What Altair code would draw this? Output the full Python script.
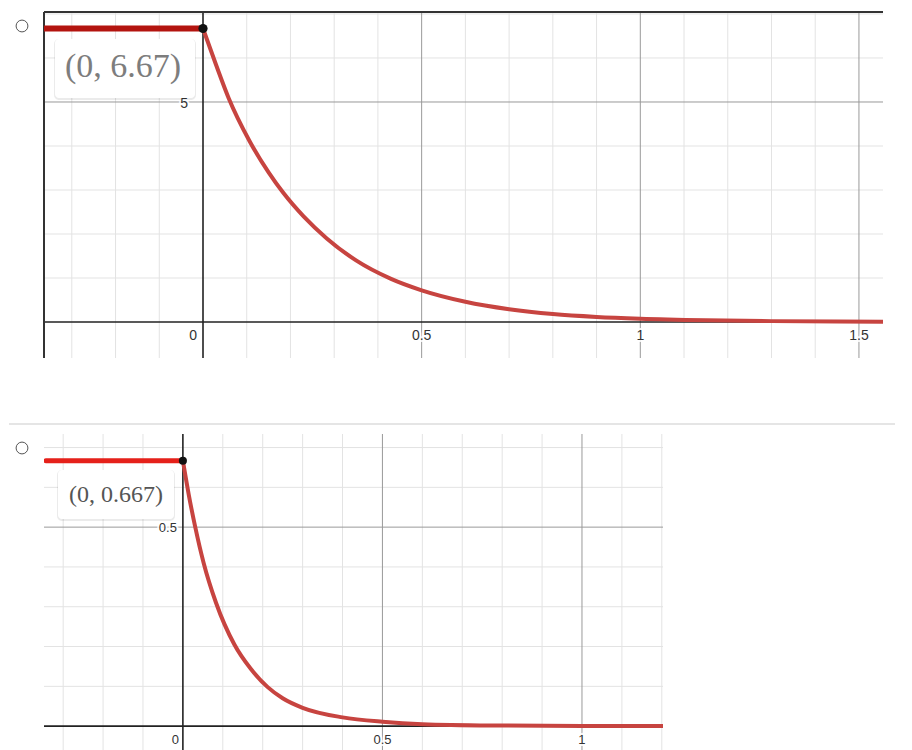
import altair as alt
import pandas as pd

# ---------------- data ----------------
# top graph: decaying curve starting at (0, 6.67)
top_curve_x = [0, 0.03, 0.059, 0.106, 0.15, 0.184, 0.23, 0.283, 0.35, 0.43, 0.5,
               0.6, 0.7, 0.8, 0.9, 1.0, 1.15, 1.3, 1.45, 1.56]
top_curve_y = [6.67, 5.84, 5.08, 4.12, 3.40, 2.93, 2.40, 1.90, 1.40, 0.98, 0.72,
               0.46, 0.29, 0.18, 0.115, 0.075, 0.04, 0.02, 0.011, 0.008]
top_flat_x = [-0.4, 0]
top_flat_y = [6.67, 6.67]
top_point = (0, 6.67)
top_point_label = "(0, 6.67)"

# bottom graph: decaying curve starting at (0, 0.667)
bot_curve_x = [0, 0.015, 0.031, 0.052, 0.083, 0.129, 0.17, 0.2125, 0.25, 0.3,
               0.4, 0.5, 0.6, 0.8, 1.0, 1.21]
bot_curve_y = [0.667, 0.58, 0.50, 0.41, 0.31, 0.205, 0.144, 0.098, 0.070, 0.046,
               0.022, 0.011, 0.005, 0.0015, 0.0004, 0.0001]
bot_flat_x = [-0.343, 0]
bot_flat_y = [0.667, 0.667]
bot_point = (0, 0.667)
bot_point_label = "(0, 0.667)"

# grid / ticks
top_x_minor = [-0.3, -0.2, -0.1, 0.1, 0.2, 0.3, 0.4, 0.6, 0.7, 0.8, 0.9, 1.1, 1.2, 1.3, 1.4]
top_x_major = [0.5, 1.0, 1.5]
top_y_minor = [1, 2, 3, 4, 6, 7]
top_y_major = [5]
top_x_ticks = [0.5, 1.0, 1.5]
top_x_tick_labels = ["0.5", "1", "1.5"]
top_y_ticks = [5]
top_y_tick_labels = ["5"]

bot_x_minor = [-0.3, -0.2, -0.1, 0.1, 0.2, 0.3, 0.4, 0.6, 0.7, 0.8, 0.9, 1.1, 1.2]
bot_x_major = [0.5, 1.0]
bot_y_minor = [0.1, 0.2, 0.3, 0.4, 0.6, 0.7]
bot_y_major = [0.5]
bot_x_ticks = [0.5, 1.0]
bot_x_tick_labels = ["0.5", "1"]
bot_y_ticks = [0.5]
bot_y_tick_labels = ["0.5"]

# ---------------- styles ----------------
MINOR = "#e3e3e3"
MAJOR = "#999999"
AXIS = "#222222"
CURVE = "#c74440"
LABEL_FONT = "Liberation Sans"
ONE = pd.DataFrame({"a": [0]})


def build_panel(W, H, xdom, ydom, curve_x, curve_y, flat_x, flat_y, flat_color,
                flat_width, point, point_label, label_font_size, label_color,
                label_dx, label_dy, box, x_minor, x_major, y_minor, y_major,
                x_ticks, x_tick_labels, y_ticks, y_tick_labels, zero_dx, y_dx,
                y_dy, tick_size, dot_size, frame, sep):
    xs = alt.Scale(domain=xdom, nice=False, zero=False)
    ys = alt.Scale(domain=ydom, nice=False, zero=False)

    def X(f):
        return alt.X(f, type="quantitative", scale=xs, axis=None)

    def Y(f):
        return alt.Y(f, type="quantitative", scale=ys, axis=None)

    layers = []
    # grid lines
    layers.append(alt.Chart(pd.DataFrame({"v": x_minor})).mark_rule(color=MINOR, strokeWidth=1).encode(x=X("v")))
    layers.append(alt.Chart(pd.DataFrame({"v": y_minor})).mark_rule(color=MINOR, strokeWidth=1).encode(y=Y("v")))
    layers.append(alt.Chart(pd.DataFrame({"v": x_major})).mark_rule(color=MAJOR, strokeWidth=1).encode(x=X("v")))
    layers.append(alt.Chart(pd.DataFrame({"v": y_major})).mark_rule(color=MAJOR, strokeWidth=1).encode(y=Y("v")))
    # axes
    layers.append(alt.Chart(pd.DataFrame({"v": [0]})).mark_rule(color=AXIS, strokeWidth=1.6).encode(x=X("v")))
    layers.append(alt.Chart(pd.DataFrame({"v": [0]})).mark_rule(color=AXIS, strokeWidth=1.6).encode(y=Y("v")))
    if frame:
        layers.append(alt.Chart(ONE).mark_rule(color="#333333", strokeWidth=2).encode(y=alt.value(0)))
        layers.append(alt.Chart(ONE).mark_rule(color="#333333", strokeWidth=2).encode(x=alt.value(0)))
    # separator line above the panel and the little radio circle
    if sep:
        layers.append(alt.Chart(ONE).mark_rule(color="#dddddd", strokeWidth=1.5).encode(
            x=alt.value(-35), x2=alt.value(851), y=alt.value(-10)))
    layers.append(alt.Chart(ONE).mark_point(shape="circle", filled=False, size=140,
                                            color="#555555", strokeWidth=1, opacity=1).encode(
        x=alt.value(-22), y=alt.value(14)))

    # tick labels with white halo
    def labels(df, align, dx, dy):
        enc = dict(x=X("x"), y=Y("y"), text=alt.Text("t:N"))
        halo = alt.Chart(df).mark_text(align=align, baseline="middle", dx=dx, dy=dy,
                                       font=LABEL_FONT, fontSize=tick_size, color="white",
                                       stroke="white", strokeWidth=4, opacity=0.85).encode(**enc)
        txt = alt.Chart(df).mark_text(align=align, baseline="middle", dx=dx, dy=dy,
                                      font=LABEL_FONT, fontSize=tick_size,
                                      color="#333333").encode(**enc)
        return [halo, txt]

    layers += labels(pd.DataFrame({"x": [0], "y": [0], "t": ["0"]}), "right", zero_dx, 14)
    layers += labels(pd.DataFrame({"x": x_ticks, "y": [0] * len(x_ticks), "t": x_tick_labels}), "center", 0, 14)
    layers += labels(pd.DataFrame({"x": [0] * len(y_ticks), "y": y_ticks, "t": y_tick_labels}), "right", y_dx, y_dy)

    # curves
    layers.append(alt.Chart(pd.DataFrame({"x": flat_x, "y": flat_y})).mark_line(
        color=flat_color, strokeWidth=flat_width, strokeCap="round", clip=True).encode(x=X("x"), y=Y("y")))
    layers.append(alt.Chart(pd.DataFrame({"x": curve_x, "y": curve_y})).mark_line(
        color=CURVE, strokeWidth=4, interpolate="monotone", clip=True).encode(x=X("x"), y=Y("y")))
    pt = pd.DataFrame({"x": [point[0]], "y": [point[1]], "t": [point_label]})
    layers.append(alt.Chart(pt).mark_point(shape="circle", filled=True, size=dot_size,
                                           color="#111111", opacity=1).encode(x=X("x"), y=Y("y")))

    # label box (annotation)
    bx1, by1, bx2, by2 = box
    layers.append(alt.Chart(ONE).mark_rect(color="#000000", opacity=0.08, cornerRadius=5).encode(
        x=alt.value(bx1 - 1), x2=alt.value(bx2 + 1), y=alt.value(by1), y2=alt.value(by2 + 2)))
    layers.append(alt.Chart(ONE).mark_rect(color="#ffffff", cornerRadius=4).encode(
        x=alt.value(bx1), x2=alt.value(bx2), y=alt.value(by1), y2=alt.value(by2)))
    layers.append(alt.Chart(pt).mark_text(align="center", baseline="middle", dx=label_dx, dy=label_dy,
                                          font="Liberation Serif", fontSize=label_font_size,
                                          color=label_color).encode(x=X("x"), y=Y("y"), text="t:N"))

    return alt.layer(*layers).properties(width=W, height=H)


top = build_panel(
    W=839, H=346, xdom=[-0.3636, 1.555], ydom=[-0.818, 7.045],
    curve_x=top_curve_x, curve_y=top_curve_y, flat_x=top_flat_x, flat_y=top_flat_y,
    flat_color="#b3140f", flat_width=6, point=top_point, point_label=top_point_label,
    label_font_size=34, label_color="#7d7d7d", label_dx=-80, label_dy=38,
    box=(11, 27, 151, 86), x_minor=top_x_minor, x_major=top_x_major,
    y_minor=top_y_minor, y_major=top_y_major, x_ticks=top_x_ticks,
    x_tick_labels=top_x_tick_labels, y_ticks=top_y_ticks, y_tick_labels=top_y_tick_labels,
    zero_dx=-6, y_dx=-15, y_dy=2, tick_size=14, dot_size=85, frame=True, sep=False)

bottom = build_panel(
    W=619, H=318, xdom=[-0.348, 1.203], ydom=[-0.065, 0.734],
    curve_x=bot_curve_x, curve_y=bot_curve_y, flat_x=bot_flat_x, flat_y=bot_flat_y,
    flat_color="#e5201a", flat_width=5, point=bot_point, point_label=bot_point_label,
    label_font_size=24, label_color="#555555", label_dx=-67, label_dy=34,
    box=(14, 36, 130, 85), x_minor=bot_x_minor, x_major=bot_x_major,
    y_minor=bot_y_minor, y_major=bot_y_major, x_ticks=bot_x_ticks,
    x_tick_labels=bot_x_tick_labels, y_ticks=bot_y_ticks, y_tick_labels=bot_y_tick_labels,
    zero_dx=-4, y_dx=-6, y_dy=1, tick_size=13, dot_size=65, frame=False, sep=True)

chart = alt.vconcat(top, bottom, spacing=64).properties(
    padding={"left": 0, "top": 3, "right": 5, "bottom": 0}
).configure_view(stroke=None)

chart.save("out.html", embed_options={"renderer": "svg", "actions": False})
